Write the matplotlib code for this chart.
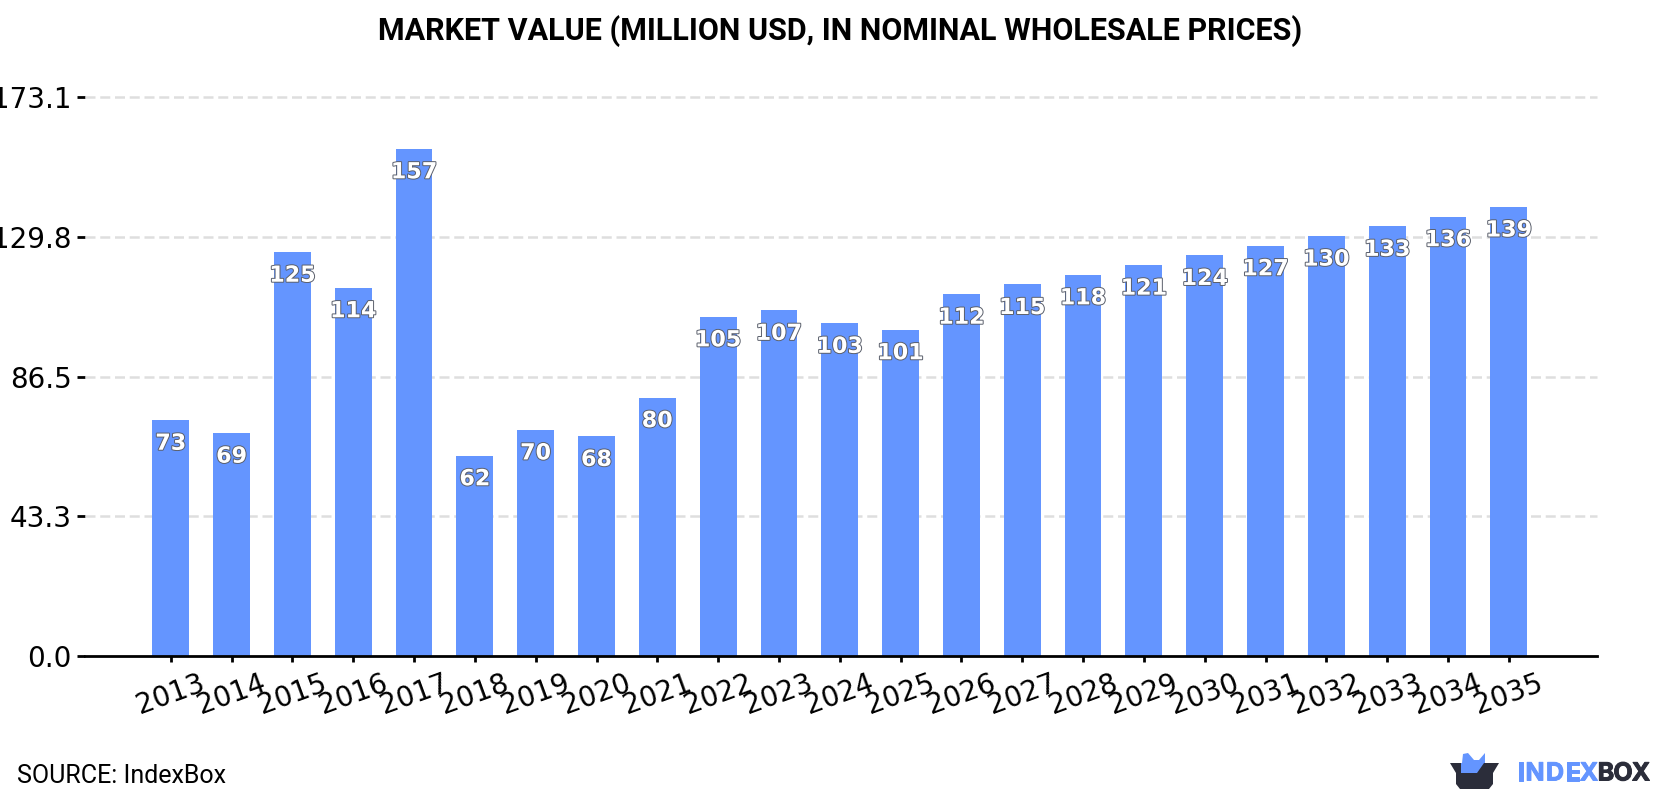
import matplotlib
matplotlib.use('Agg')
import matplotlib.pyplot as plt
import matplotlib.patheffects as pe
from matplotlib.patches import Polygon

# Data
years = ['2013', '2014', '2015', '2016', '2017', '2018', '2019', '2020', '2021', '2022', '2023',
         '2024', '2025', '2026', '2027', '2028', '2029', '2030', '2031', '2032', '2033', '2034', '2035']
values = [73, 69, 125, 114, 157, 62, 70, 68, 80, 105, 107, 103, 101, 112, 115, 118, 121, 124, 127, 130, 133, 136, 139]
y_ticks = [0.0, 43.3, 86.5, 129.8, 173.1]

W, H = 1680, 800
BLUE = '#6495ff'
DARK = '#2b2d3a'

fig = plt.figure(figsize=(W / 100, H / 100), dpi=100)
ax = fig.add_axes([85 / W, 1 - 656 / H, (1597 - 85) / W, (656 - 96.7) / H])

# Bars
x = list(range(len(years)))
ax.bar(x, values, width=0.605, color=BLUE, zorder=2)
ax.set_xlim(-1.41, 23.45)
ax.set_ylim(0, 173.1)

# Value labels inside the top of each bar
for xi, v in zip(x, values):
    ax.annotate(str(v), (xi, v), xytext=(0, -17), textcoords='offset points',
                ha='center', va='center', fontsize=16, fontweight='bold',
                family='DejaVu Sans', color='white', zorder=4,
                path_effects=[pe.withStroke(linewidth=1.4, foreground='#5a5f6b')])

# Axes styling
for side in ['top', 'left', 'right']:
    ax.spines[side].set_visible(False)
ax.spines['bottom'].set_linewidth(2)
ax.set_yticks(y_ticks)
ax.set_yticklabels([f'{t:.1f}' for t in y_ticks], fontsize=20, family='DejaVu Sans')
ax.set_xticks(x)
ax.set_xticklabels(years, fontsize=20, rotation=20, ha='center', family='DejaVu Sans')
ax.tick_params(axis='y', length=5.5, width=2, pad=4)
ax.tick_params(axis='x', length=4.5, width=2, pad=5)
ax.set_axisbelow(True)
for t in y_ticks[1:]:
    ax.axhline(t, color='#dedede', lw=1.8, dashes=(4, 1.9), zorder=1, clip_on=False)

# Title and source
fig.text(0.5, 1 - 31 / H, 'MARKET VALUE (MILLION USD, IN NOMINAL WHOLESALE PRICES)',
         ha='center', va='center', fontsize=22, fontweight='bold', family='Roboto')
fig.text(17 / W, 1 - 776 / H, 'SOURCE: IndexBox', ha='left', va='center', fontsize=18, family='Roboto')

# Logo, drawn on a pixel-coordinate overlay
logo = fig.add_axes([0, 0, 1, 1], facecolor='none')
logo.set_xlim(0, W)
logo.set_ylim(H, 0)
logo.axis('off')
logo.add_patch(Polygon([(1462, 763), (1463, 754), (1468, 753), (1474, 760), (1479, 760), (1485, 753),
                        (1485, 763), (1478, 773), (1462, 773)], closed=True, color=BLUE, lw=0))
logo.add_patch(Polygon([(1450, 763), (1499, 763), (1493, 773), (1493, 784), (1489, 789), (1460, 789),
                        (1456, 784), (1456, 773)], closed=True, color=DARK, lw=0))
logo.add_patch(Polygon([(1461, 763), (1484, 763), (1477, 773), (1461, 773)], closed=True, color=BLUE, lw=0))
wordmark = [('I', 1521, BLUE), ('N', 1535, BLUE), ('D', 1555, BLUE), ('E', 1573, BLUE), ('X', 1589, BLUE),
            ('B', 1606, DARK), ('O', 1623, DARK), ('X', 1641, DARK)]
for letter, lx, col in wordmark:
    logo.text(lx, 774, letter, color=col, fontsize=18, fontweight='bold', family='Inter', va='center', ha='center',
              path_effects=[pe.withStroke(linewidth=0.7, foreground=col)])

plt.savefig('out.png', dpi=100)
